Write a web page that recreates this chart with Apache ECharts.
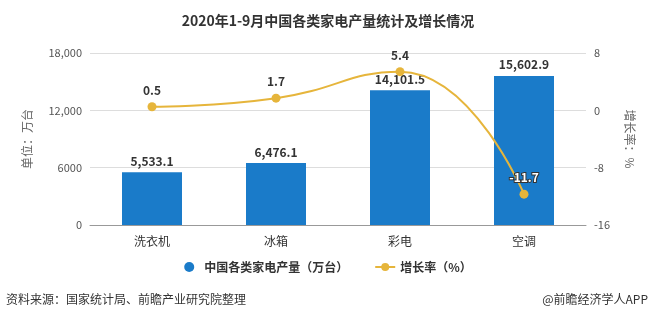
<!DOCTYPE html>
<html>
<head>
<meta charset="utf-8">
<script src="https://cdn.jsdelivr.net/npm/echarts@6/dist/echarts.min.js"></script>
<style>
  html, body { margin: 0; padding: 0; background: #fff; }
  #chart { width: 656px; height: 324px; }
</style>
</head>
<body>
<div id="chart"></div>
<script>
// 数据
const categories = ['洗衣机', '冰箱', '彩电', '空调'];
const output = [5533.1, 6476.1, 14101.5, 15602.9];
const growth = [0.5, 1.7, 5.4, -11.7];

const chart = echarts.init(document.getElementById('chart'));
const font = '"Noto Sans CJK SC", "Microsoft YaHei", sans-serif';

const option = {
  backgroundColor: '#fff',
  textStyle: { fontFamily: font },
  title: {
    text: '2020年1-9月中国各类家电产量统计及增长情况',
    left: 'center',
    top: 9,
    textStyle: { fontSize: 14, fontWeight: 'bold', color: '#333', fontFamily: font }
  },
  legend: {
    bottom: 46,
    itemGap: 26,
    itemWidth: 20,
    itemHeight: 10,
    textStyle: { fontSize: 12, color: '#333', fontWeight: 'bold' },
    data: [
      { name: '中国各类家电产量（万台）', icon: 'circle' },
      { name: '增长率（%）' }
    ]
  },
  grid: { left: 90, right: 70, top: 53, bottom: 99 },
  xAxis: {
    type: 'category',
    data: categories,
    axisTick: { show: false },
    axisLine: { lineStyle: { color: '#999' } },
    axisLabel: { color: '#333', fontSize: 12, margin: 10 }
  },
  yAxis: [
    {
      type: 'value',
      min: 0, max: 18000, interval: 6000,
      name: '单位：万台',
      nameLocation: 'middle',
      nameRotate: 90,
      nameGap: 57,
      nameTextStyle: { color: '#666', fontSize: 12 },
      axisLabel: {
        color: '#555', fontSize: 11,
        formatter: v => v >= 10000 ? v.toLocaleString('en-US') : String(v)
      },
      splitLine: { lineStyle: { color: '#ddd' } }
    },
    {
      type: 'value',
      min: -16, max: 8, interval: 8,
      name: '增长率：%',
      nameLocation: 'middle',
      nameRotate: -90,
      nameGap: 38,
      nameTextStyle: { color: '#666', fontSize: 12 },
      axisLabel: { color: '#555', fontSize: 11 },
      splitLine: { show: false }
    }
  ],
  series: [
    {
      name: '中国各类家电产量（万台）',
      type: 'bar',
      data: output,
      barWidth: 60,
      itemStyle: { color: '#1a7bc9' },
      label: {
        show: true,
        position: 'top',
        color: '#333',
        fontWeight: 'bold',
        fontSize: 12,
        formatter: p => p.value.toLocaleString('en-US', { minimumFractionDigits: 1 })
      }
    },
    {
      name: '增长率（%）',
      type: 'line',
      yAxisIndex: 1,
      smooth: true,
      data: growth,
      symbol: 'circle',
      symbolSize: 9,
      itemStyle: { color: '#e6b53b' },
      lineStyle: { width: 2, color: '#e6b53b' },
      label: {
        show: true,
        position: 'top',
        color: '#333',
        fontWeight: 'bold',
        fontSize: 12,
        distance: 6
      },
      labelLayout: { hideOverlap: false }
    }
  ],
  graphic: [
    {
      type: 'text', left: 6, top: 293,
      style: { text: '资料来源：国家统计局、前瞻产业研究院整理', fill: '#333', fontSize: 12, fontFamily: font }
    },
    {
      type: 'text', right: 8, top: 293,
      style: { text: '@前瞻经济学人APP', fill: '#333', fontSize: 12, fontFamily: font }
    }
  ]
};

// -11.7 标签在柱子上，白字
option.series[1].data = growth.map((v, i) => i === 3
  ? { value: v, label: { color: '#fff', textBorderColor: '#333', textBorderWidth: 2 } }
  : v);

chart.setOption(option);
</script>
</body>
</html>
